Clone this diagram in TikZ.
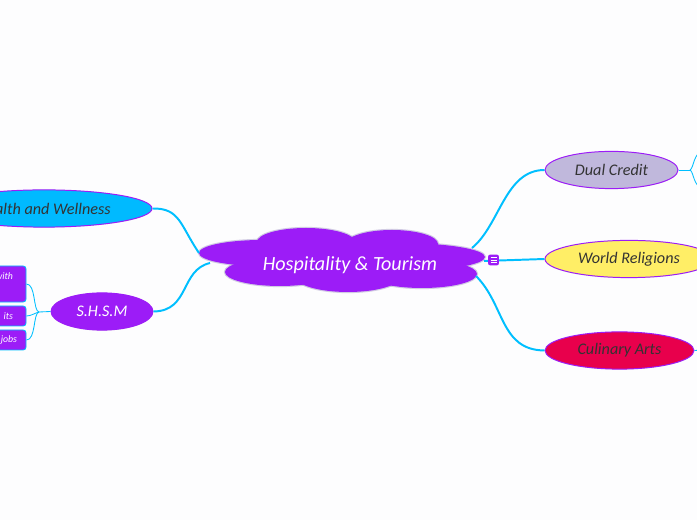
\documentclass[tikz,border=0pt]{standalone}
\usepackage{fontspec}
\setmainfont{Carlito}
\usetikzlibrary{shapes.geometric,shadows}
\definecolor{bgpage}{HTML}{FDFDFE}
\definecolor{hubpurple}{HTML}{9C1CF7}
\definecolor{linkblue}{HTML}{00BFFF}
\definecolor{halo}{HTML}{B4AAD2}
\definecolor{inkdark}{HTML}{333333}
\tikzset{
	topic/.style={shape=ellipse, draw=hubpurple, line width=.7pt, inner sep=0pt, text=inkdark,
		minimum height=.93cm, drop shadow={opacity=.18, shadow xshift=0pt, shadow yshift=-.4pt},
		font=\itshape\fontsize{11.5}{13}\selectfont},
	leaf/.style={draw=linkblue, line width=.6pt, fill=hubpurple, rounded corners=2pt, inner sep=0pt},
	leaftext/.style={text=white, anchor=east, font=\itshape\fontsize{7}{8}\selectfont},
	link/.style={draw=linkblue, line width=1.4pt},
	twig/.style={draw=linkblue, line width=.6pt},
}
\begin{document}
\begin{tikzpicture}
	\def \hor{ 0.025 };
	\def \ver{ -0.025 };
	\path[use as bounding box, clip] (0*\hor,0*\ver) rectangle (697*\hor,520*\ver);
	\fill[bgpage] (0*\hor,0*\ver) rectangle (697*\hor,520*\ver);

	% connectors go under everything
	\coordinate (hubne) at (472*\hor,248*\ver);
	\coordinate (hube) at (484*\hor,261*\ver);
	\coordinate (hubse) at (476*\hor,276*\ver);
	\coordinate (hubw) at (199*\hor,253*\ver);
	\coordinate (hubsw) at (210*\hor,263*\ver);
	\coordinate (forkl) at (39*\hor,312*\ver);
	\coordinate (forkr) at (690*\hor,170*\ver);
	\coordinate (dualup) at (704*\hor,150*\ver);
	\coordinate (dualdown) at (704*\hor,189*\ver);
	\coordinate (culinaryout) at (704*\hor,350*\ver);

	% cloud
	\foreach \cx/\cy/\rx/\ry in {262/253/63/13, 306/242/49/14, 392/244/46/14, 400/257/85/14, 422/274/55/14, 348/277/52/15, 280/272/55/14, 340/260/100/20} {
		\draw[halo, opacity=.6, line width=1.6pt] (\cx*\hor,\cy*\ver) ellipse ({\rx*0.025} and {\ry*0.025});
	}
	\foreach \cx/\cy/\rx/\ry in {262/253/63/13, 306/242/49/14, 392/244/46/14, 400/257/85/14, 422/274/55/14, 348/277/52/15, 280/272/55/14, 340/260/100/20} {
		\fill[hubpurple] (\cx*\hor,\cy*\ver) ellipse ({\rx*0.025} and {\ry*0.025});
	}
	\node[text=white, font=\itshape\fontsize{14.3}{17}\selectfont] (hub) at (350*\hor,265*\ver) {Hospitality \& Tourism};

	\node[topic, fill={rgb,255:red,0;green,186;blue,255}, minimum width=5.4cm] (health) at (44*\hor,208.5*\ver) {Health and Wellness};
	\node[topic, fill=hubpurple, text=white, draw=hubpurple, minimum width=2.55cm] (shsm) at (102*\hor,311.5*\ver) {S.H.S.M};
	\node[topic, fill={rgb,255:red,192;green,184;blue,220}, minimum width=3.325cm] (dual) at (611.5*\hor,170*\ver) {Dual Credit};
	\node[topic, fill={rgb,255:red,255;green,238;blue,102}, minimum width=4.2cm] (world) at (629*\hor,259*\ver) {World Religions};
	\node[topic, fill={rgb,255:red,232;green,0;blue,76}, minimum width=3.725cm] (culinary) at (619.5*\hor,350.5*\ver) {Culinary Arts};

	\node[leaf, minimum width=1.4cm, minimum height=.9cm] (shsmone) at (-2*\hor,284*\ver) {};
	\node[leaf, minimum width=1.4cm, minimum height=.5cm] (shsmtwo) at (-2*\hor,316*\ver) {};
	\node[leaf, minimum width=1.4cm, minimum height=.5cm] (shsmthree) at (-2*\hor,340*\ver) {};
	\node[leaftext] (shsmonetext) at (18*\hor,276*\ver) {with};
	\node[leaftext] (shsmtwotext) at (18*\hor,316*\ver) {its};
	\node[leaftext] (shsmthreetext) at (22*\hor,340*\ver) {jobs};

	\draw[link] (hubne) .. controls (500*\hor,225*\ver) and (505*\hor,170*\ver) .. (dual.west);
	\draw[link] (hube) -- (world.west);
	\draw[link] (hubse) .. controls (505*\hor,305*\ver) and (500*\hor,350*\ver) .. (culinary.west);
	\draw[link] (hubw) .. controls (180*\hor,225*\ver) and (180*\hor,208*\ver) .. (health.east);
	\draw[link] (hubsw) .. controls (180*\hor,270*\ver) and (190*\hor,311*\ver) .. (shsm.east);
	\draw[twig] (shsm.west) -- (forkl);
	\draw[twig] (forkl) .. controls (33*\hor,311*\ver) and (36*\hor,284*\ver) .. (shsmone.east);
	\draw[twig] (forkl) .. controls (35*\hor,313*\ver) and (31*\hor,316*\ver) .. (shsmtwo.east);
	\draw[twig] (forkl) .. controls (33*\hor,313*\ver) and (36*\hor,340*\ver) .. (shsmthree.east);
	\draw[twig] (dual.east) -- (forkr);
	\draw[twig] (forkr) .. controls (694*\hor,168*\ver) and (693*\hor,153*\ver) .. (dualup);
	\draw[twig] (forkr) .. controls (694*\hor,172*\ver) and (693*\hor,187*\ver) .. (dualdown);
	\draw[twig] (culinary.east) -- (culinaryout);

	% collapse handle on the hub
	\node[fill=hubpurple, rounded corners=1.5pt, minimum size=.27cm, inner sep=0pt] (handle) at (493.5*\hor,260*\ver) {};
	\draw[white, line width=.4pt] (490.5*\hor,257.5*\ver) -- (496.5*\hor,257.5*\ver);
	\draw[white, line width=.4pt] (490.5*\hor,260*\ver) -- (496.5*\hor,260*\ver);
	\draw[white, line width=.4pt] (490.5*\hor,262.5*\ver) -- (496.5*\hor,262.5*\ver);
\end{tikzpicture}
\end{document}
